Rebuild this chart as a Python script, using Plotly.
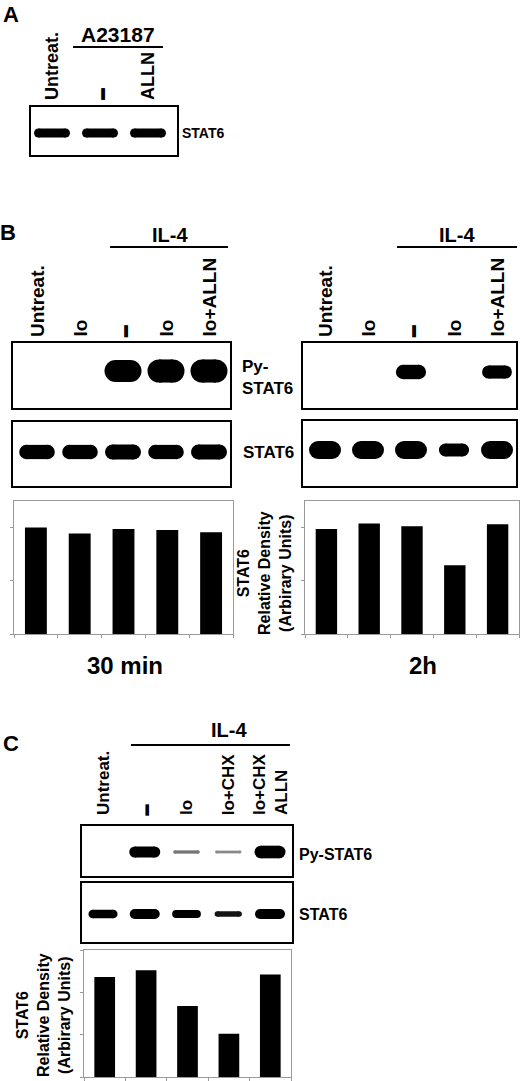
import plotly.graph_objects as go

W, H = 520, 1081
FONT = "Liberation Sans, Arial, Helvetica, sans-serif"
DASH_FONT = "DejaVu Sans, Liberation Sans, sans-serif"

# ---------------- data ----------------
a_lanes = ["Untreat.", "–", "ALLN"]
a_stat6 = [1.0, 1.0, 1.0]

b_lanes = ["Untreat.", "Io", "–", "Io", "Io+ALLN"]
b30_py = [0.0, 0.0, 1.0, 1.05, 1.05]
b30_stat6 = [0.95, 0.95, 1.0, 0.95, 1.0]
b2h_py = [0.0, 0.0, 0.72, 0.0, 0.66]
b2h_stat6 = [1.0, 1.0, 1.0, 0.72, 1.0]
b30_density = [1.00, 0.944, 0.988, 0.978, 0.956]
b2h_density = [0.988, 1.038, 1.012, 0.645, 1.031]

c_lanes = ["Untreat.", "–", "Io", "Io+CHX", "Io+CHX<br>ALLN"]
c_py = [0.0, 1.0, 0.3, 0.25, 1.15]
c_stat6 = [0.85, 1.0, 0.8, 0.55, 1.0]
c_density = [1.18, 1.26, 0.84, 0.51, 1.21]

b_density_ticks = [0, 0.5, 1.0]
c_density_ticks = [0, 0.5, 1.0, 1.5]

# ---------------- helpers ----------------
def fx(p):
    return p / W

def fy(p):
    return 1 - p / H

fig = go.Figure()
layout_axes = {}
annotations = []
shapes = []


def ax_names(n):
    if n == 1:
        return "xaxis", "yaxis", "x", "y"
    return f"xaxis{n}", f"yaxis{n}", f"x{n}", f"y{n}"


def blot(n, box, lane0, spacing, band_y, thick, width, values):
    x0, x1, y0, y1 = box
    xa, ya, xr, yr = ax_names(n)
    r0 = -(lane0 - x0) / spacing
    r1 = r0 + (x1 - x0) / spacing
    frac_top = (band_y - y0) / (y1 - y0)
    yr0 = -2 * (1 - frac_top)
    yr1 = 2 * frac_top
    common = dict(showline=True, mirror=True, linewidth=2, linecolor="black",
                  showgrid=False, zeroline=False, showticklabels=False,
                  ticks="", fixedrange=True)
    layout_axes[xa] = dict(domain=[fx(x0), fx(x1)], range=[r0, r1], anchor=yr, **common)
    layout_axes[ya] = dict(domain=[fy(y1), fy(y0)], range=[yr0, yr1], anchor=xr, **common)
    for i, v in enumerate(values):
        if v <= 0:
            continue
        t = max(2.5, thick * v)
        w = width * (0.8 + 0.2 * min(1.0, v))
        half = max(w - t, 2) / 2 / spacing
        a = min(1.0, v / 0.6)
        g = int(round(235 * (1 - a)))
        col = f"rgb({g},{g},{g})"
        fig.add_trace(go.Scatter(
            x=[i - half, i + half], y=[0, 0], mode="lines+markers",
            line=dict(color=col, width=t),
            marker=dict(size=t, color=col, line=dict(width=0)),
            xaxis=xr, yaxis=yr, hoverinfo="skip", showlegend=False))


def bars(n, box, values, yrange, yticks):
    x0, x1, y0, y1 = box
    xa, ya, xr, yr = ax_names(n)
    common = dict(showline=True, mirror=True, linewidth=1, linecolor="#9a9a9a",
                  showgrid=False, zeroline=False, showticklabels=False,
                  ticks="outside", ticklen=3, tickcolor="#9a9a9a", tickwidth=1,
                  fixedrange=True)
    k = len(values)
    layout_axes[xa] = dict(domain=[fx(x0), fx(x1)], range=[-0.5, k - 0.5],
                           tickvals=[i - 0.5 for i in range(k + 1)], anchor=yr, **common)
    layout_axes[ya] = dict(domain=[fy(y1), fy(y0)], range=yrange,
                           tickvals=yticks, anchor=xr, **common)
    fig.add_trace(go.Bar(x=list(range(k)), y=values, width=0.5,
                         marker=dict(color="black", line=dict(width=0)),
                         xaxis=xr, yaxis=yr, hoverinfo="skip", showlegend=False))


def text(x, y, s, size, xanchor="center", yanchor="middle", angle=0, align="center"):
    annotations.append(dict(x=fx(x), y=fy(y), xref="paper", yref="paper", text=s,
                            showarrow=False, xanchor=xanchor, yanchor=yanchor,
                            textangle=angle, align=align,
                            font=dict(family=FONT, size=size, color="black", weight="bold")))


def lane_labels(n, labels, bottom, size):
    _, _, xr, _ = ax_names(n)
    for i, s in enumerate(labels):
        if s == "–":
            fam, fs, b = DASH_FONT, size + 12, bottom + 2
        else:
            fam, fs, b = FONT, size, bottom
        annotations.append(dict(x=i, y=fy(b), xref=xr, yref="paper", text=s,
                                showarrow=False, xanchor="center", yanchor="bottom",
                                textangle=-90, align="left",
                                font=dict(family=fam, size=fs, color="black", weight="bold")))


def hline(x0, x1, y):
    shapes.append(dict(type="line", xref="paper", yref="paper",
                       x0=fx(x0), x1=fx(x1), y0=fy(y), y1=fy(y),
                       line=dict(color="black", width=2)))

# ---------------- panel A ----------------
blot(1, (31, 177, 107, 155), 52, 48, 133, 9, 36, a_stat6)
lane_labels(1, a_lanes, 102, 18)
text(11, 15, "A", 22)
text(118, 34, "A23187", 21)
hline(73, 163, 47)
text(180, 133, "STAT6", 14, xanchor="left")

# ---------------- panel B ----------------
blot(2, (13, 230, 343, 408), 37, 43, 371, 22, 37, b30_py)
blot(3, (13, 230, 422, 486), 37, 43, 452, 15, 36, b30_stat6)
blot(4, (303, 516, 343, 408), 325, 43, 372, 20, 32, b2h_py)
blot(5, (303, 516, 421, 486), 325, 43, 450, 18, 32, b2h_stat6)
bars(6, (14, 233, 501, 634), b30_density, [0, 1.25], b_density_ticks)
bars(7, (305, 519, 501, 634), b2h_density, [0, 1.25], b_density_ticks)
lane_labels(2, b_lanes, 339, 19)
lane_labels(4, b_lanes, 339, 19)
text(8, 232, "B", 22)
text(170, 235, "IL-4", 20)
text(457, 235, "IL-4", 20)
hline(110, 228, 247)
hline(397, 517, 247)
text(240, 377, "Py-<br>STAT6", 17, xanchor="left", align="left")
text(241, 452, "STAT6", 17, xanchor="left")
text(264, 573, "STAT6<br>Relative Density<br>(Arbirary Units)", 16, angle=-90)
text(125, 665, "30 min", 24)
text(423, 665, "2h", 24)

# ---------------- panel C ----------------
blot(8, (82, 292, 826, 876), 103, 41.75, 852, 11, 31, c_py)
blot(9, (82, 292, 883, 942), 103, 41.75, 914, 10, 30, c_stat6)
bars(10, (84, 291, 950, 1077), c_density, [0, 1.5], c_density_ticks)
lane_labels(8, c_lanes, 817, 17)
text(11, 743, "C", 22)
text(229, 730, "IL-4", 20)
hline(131, 290, 745)
text(297, 854, "Py-STAT6", 16, xanchor="left")
text(297, 914, "STAT6", 16, xanchor="left")
text(43, 1015, "STAT6<br>Relative Density<br>(Arbirary Units)", 16, angle=-90)

fig.update_layout(
    width=W, height=H, margin=dict(l=0, r=0, t=0, b=0),
    paper_bgcolor="white", plot_bgcolor="white", showlegend=False,
    annotations=annotations, shapes=shapes, **layout_axes)

fig.write_html("out.html", config={"displayModeBar": False},
               post_script="document.body.style.margin='0';document.body.style.overflow='hidden';")
